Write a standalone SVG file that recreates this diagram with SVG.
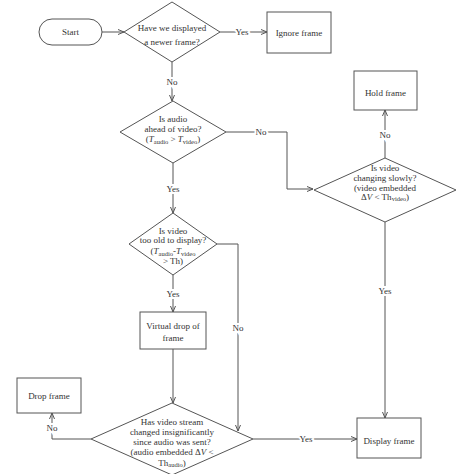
<svg xmlns="http://www.w3.org/2000/svg" width="474" height="474" viewBox="0 0 474 474">
<defs>
<style>
.shape{fill:#fff;stroke:#555;stroke-width:1}
.line{fill:none;stroke:#555;stroke-width:1}
text{font-family:"Liberation Serif","Times New Roman",serif;font-size:9px;fill:#333;text-anchor:middle}
.lbl{paint-order:stroke;stroke:#fff;stroke-width:4px}
.sub{font-size:6.5px}
.it{font-style:italic}
</style>
<marker id="arr" viewBox="0 0 6 6" refX="6" refY="3" markerWidth="6" markerHeight="6" markerUnits="userSpaceOnUse" orient="auto">
<path d="M0,0.5 L6,3 L0,5.5" fill="none" stroke="#555" stroke-width="1"/>
</marker>
</defs>
<rect width="474" height="474" fill="#fff"/>
<g id="connectors">
<path class="line" d="M102,32 H124" marker-end="url(#arr)"/>
<path class="line" d="M220,32 H267" marker-end="url(#arr)"/>
<path class="line" d="M172,62 V101" marker-end="url(#arr)"/>
<path class="line" d="M226,132 H287 V189 H313" marker-end="url(#arr)"/>
<path class="line" d="M385,158 V110" marker-end="url(#arr)"/>
<path class="line" d="M385,222 V418" marker-end="url(#arr)"/>
<path class="line" d="M173,163 V213" marker-end="url(#arr)"/>
<path class="line" d="M173,275 V312" marker-end="url(#arr)"/>
<path class="line" d="M217,244 H238 V431" marker-end="url(#arr)"/>
<path class="line" d="M173,349 V403" marker-end="url(#arr)"/>
<path class="line" d="M253,439 H357" marker-end="url(#arr)"/>
<path class="line" d="M91,439 H52 V413" marker-end="url(#arr)"/>
<text class="lbl" x="242" y="35">Yes</text>
<text class="lbl" x="172" y="85">No</text>
<text class="lbl" x="261" y="135">No</text>
<text class="lbl" x="385" y="138">No</text>
<text class="lbl" x="385" y="294">Yes</text>
<text class="lbl" x="173" y="192">Yes</text>
<text class="lbl" x="173" y="297">Yes</text>
<text class="lbl" x="238" y="331">No</text>
<text class="lbl" x="306" y="442">Yes</text>
<text class="lbl" x="52" y="431">No</text>
</g>
<g id="start">
<rect class="shape" x="39" y="19" width="63" height="26" rx="13"/>
<text x="70.5" y="35">Start</text>
</g>
<g id="q-newer">
<polygon class="shape" points="172,2 220,32 172,62 124,32"/>
<text x="172" y="31">Have we displayed</text>
<text x="172" y="45">a newer frame?</text>
</g>
<g id="ignore">
<rect class="shape" x="267" y="12" width="64" height="41"/>
<text x="299" y="36">Ignore frame</text>
</g>
<g id="q-audio-ahead">
<polygon class="shape" points="173,101 226,132 173,163 120,132"/>
<text x="173" y="122">Is audio</text>
<text x="173" y="132">ahead of video?</text>
<text x="173" y="142">(<tspan class="it">T</tspan><tspan class="sub" dy="1.5">audio</tspan><tspan dy="-1.5"> &gt; </tspan><tspan class="it">T</tspan><tspan class="sub" dy="1.5">video</tspan><tspan dy="-1.5">)</tspan></text>
</g>
<g id="hold">
<rect class="shape" x="354" y="71" width="63" height="39"/>
<text x="385.5" y="96">Hold frame</text>
</g>
<g id="q-video-slow">
<polygon class="shape" points="385,158 456,190 385,222 314,190"/>
<text x="385" y="171">Is video</text>
<text x="385" y="181">changing slowly?</text>
<text x="385" y="191">(video embedded</text>
<text x="385" y="200">Δ<tspan class="it">V</tspan> &lt; Th<tspan class="sub" dy="1">video</tspan><tspan dy="-1">)</tspan></text>
</g>
<g id="q-too-old">
<polygon class="shape" points="173,213 217,244 173,275 129,244"/>
<text x="173" y="234">Is video</text>
<text x="173" y="243">too old to display?</text>
<text x="173" y="254">(<tspan class="it">T</tspan><tspan class="sub" dy="1.5">audio</tspan><tspan dy="-1.5">-</tspan><tspan class="it">T</tspan><tspan class="sub" dy="1.5">video</tspan></text>
<text x="173" y="264">&gt; Th)</text>
</g>
<g id="virtual-drop">
<rect class="shape" x="140" y="312" width="66" height="37"/>
<text x="173" y="329">Virtual drop of</text>
<text x="173" y="341">frame</text>
</g>
<g id="q-changed">
<polygon class="shape" points="172,403 253,439 172,475 91,439"/>
<text x="172" y="425">Has video stream</text>
<text x="172" y="435">changed insignificantly</text>
<text x="172" y="445">since audio was sent?</text>
<text x="172" y="455">(audio embedded Δ<tspan class="it">V</tspan>  &lt;</text>
<text x="172" y="466">Th<tspan class="sub" dy="1">audio</tspan><tspan dy="-1">)</tspan></text>
</g>
<g id="drop">
<rect class="shape" x="17" y="378" width="64" height="35"/>
<text x="49" y="399">Drop frame</text>
</g>
<g id="display">
<rect class="shape" x="357" y="418" width="64" height="40"/>
<text x="389" y="444">Display frame</text>
</g>
</svg>
